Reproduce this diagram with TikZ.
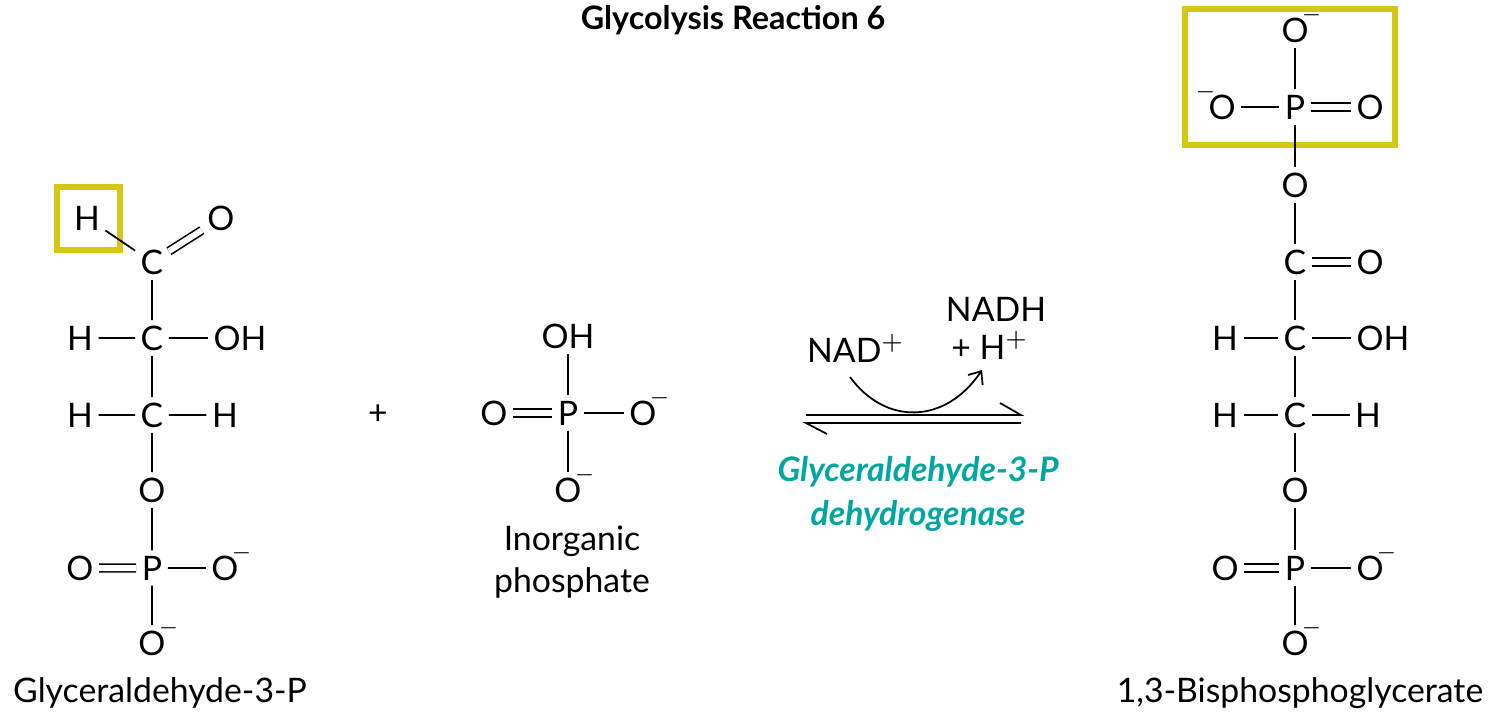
\documentclass[tikz,border=0pt]{standalone}
\usepackage{fontspec}
\setmainfont{Lato}
\usetikzlibrary{arrows.meta}
\definecolor{boxyellow}{RGB}{212,200,20}
\definecolor{enzteal}{RGB}{0,166,160}
\tikzset{
  atom/.style={inner sep=1.4pt,font=\fontsize{9.6}{11}\selectfont},
  neg/.style={label={[inner sep=0pt,font=\fontsize{6}{7}\selectfont,xshift=-3.5pt,yshift=-3.5pt]45:$-$}},
  lneg/.style={label={[inner sep=0pt,font=\fontsize{6}{7}\selectfont,xshift=3.5pt,yshift=-3.5pt]135:$-$}},
  bond/.style={line width=0.5pt},
  dbond/.style={line width=0.45pt,double,double distance=1.7pt},
  hbox/.style={draw=boxyellow,line width=1.6pt},
  lbl/.style={font=\fontsize{9.6}{12}\selectfont,align=center},
}
\begin{document}
\begin{tikzpicture}[x=0.01cm,y=-0.01cm]
\useasboundingbox (0,0) rectangle (1503,723);
%title
\node[lbl,font=\fontsize{9.2}{10}\selectfont\bfseries] (title) at (733,20) {Glycolysis Reaction 6};
%glyceraldehyde-3-P
\draw[hbox] (57,187) rectangle (120,250);
\node[atom] (h1) at (87,218) {H};
\node[atom] (o1) at (221,218) {O};
\node[atom] (c1) at (152,262) {C};
\node[atom] (h2) at (80,338) {H};
\node[atom] (c2) at (152,338) {C};
\node[atom] (oh1) at (240,338) {OH};
\node[atom] (h3) at (80,415) {H};
\node[atom] (c3) at (152,415) {C};
\node[atom] (h4) at (225,415) {H};
\node[atom] (o2) at (152,490) {O};
\node[atom] (o3) at (80,568) {O};
\node[atom] (p1) at (152,568) {P};
\node[atom,neg] (o4) at (225,568) {O};
\node[atom,neg] (o5) at (152,643) {O};
\draw[bond] (h1)--(c1) (c1)--(c2) (h2)--(c2) (c2)--(oh1) (c2)--(c3)
  (h3)--(c3) (c3)--(h4) (c3)--(o2) (o2)--(p1) (p1)--(o4) (p1)--(o5);
\draw[dbond] (c1)--(o1) (o3)--(p1);
\node[lbl] (name1) at (160,693) {Glyceraldehyde-3-P};
%plus
\node[atom] (plus) at (378,415) {+};
%inorganic phosphate
\node[atom] (oh2) at (568,336) {OH};
\node[atom] (o6) at (494,413) {O};
\node[atom] (p2) at (568,413) {P};
\node[atom,neg] (o7) at (643,413) {O};
\node[atom,neg] (o8) at (568,490) {O};
\draw[bond] (oh2)--(p2) (p2)--(o7) (p2)--(o8);
\draw[dbond] (o6)--(p2);
\node[lbl] (name2) at (572,562) {Inorganic\\phosphate};
%arrows
\coordinate (a1) at (806,415);
\coordinate (a2) at (1021,415);
\coordinate (a3) at (1000,403);
\coordinate (b1) at (806,423);
\coordinate (b2) at (1021,423);
\coordinate (b3) at (827,434);
\draw[bond] (a1)--(a2)--(a3);
\draw[bond] (b2)--(b1)--(b3);
\node[lbl] (nad) at (856,348) {NAD$^+$};
\node[lbl] (nadh) at (996,309) {NADH};
\node[lbl] (hplus) at (990,345) {+ H$^+$};
\coordinate (c0) at (850,377);
\coordinate (c9) at (982,370);
\draw[bond,-{Straight Barb[length=3pt,width=5pt]}] (c0) .. controls (885,425) and (945,425) .. (c9);
\node[lbl,text=enzteal,font=\fontsize{9.6}{12.3}\selectfont\bfseries\itshape] (enz) at (918,494) {Glyceraldehyde-3-P\\dehydrogenase};
%1,3-bisphosphoglycerate
\draw[hbox] (1185,9) rectangle (1395,145);
\node[atom,neg] (r1) at (1295,30) {O};
\node[atom,lneg] (r2) at (1222,107) {O};
\node[atom] (r3) at (1295,107) {P};
\node[atom] (r4) at (1370,107) {O};
\node[atom] (r5) at (1295,185) {O};
\node[atom] (r6) at (1295,262) {C};
\node[atom] (r7) at (1370,262) {O};
\node[atom] (r8) at (1225,338) {H};
\node[atom] (r9) at (1295,338) {C};
\node[atom] (r10) at (1383,338) {OH};
\node[atom] (r11) at (1225,415) {H};
\node[atom] (r12) at (1295,415) {C};
\node[atom] (r13) at (1368,415) {H};
\node[atom] (r14) at (1295,490) {O};
\node[atom] (r15) at (1225,568) {O};
\node[atom] (r16) at (1295,568) {P};
\node[atom,neg] (r17) at (1370,568) {O};
\node[atom,neg] (r18) at (1295,643) {O};
\draw[bond] (r1)--(r3) (r2)--(r3) (r3)--(r5) (r5)--(r6) (r6)--(r9) (r8)--(r9)
  (r9)--(r10) (r9)--(r12) (r11)--(r12) (r12)--(r13) (r12)--(r14) (r14)--(r16)
  (r16)--(r17) (r16)--(r18);
\draw[dbond] (r3)--(r4) (r6)--(r7) (r15)--(r16);
\node[lbl] (name3) at (1300,693) {1,3-Bisphosphoglycerate};
\end{tikzpicture}
\end{document}
